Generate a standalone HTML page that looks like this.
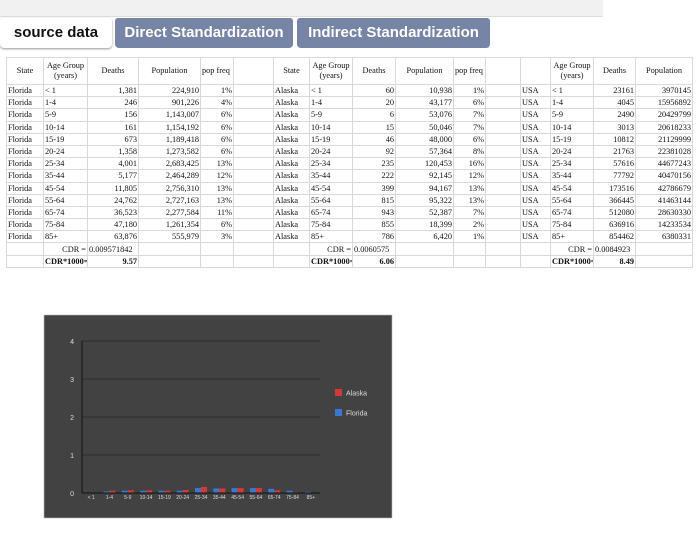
<!DOCTYPE html>
<html><head><meta charset="utf-8"><style>
body{margin:0;width:700px;height:543px;background:#fff;position:relative;overflow:hidden;font-family:"Liberation Sans",sans-serif}
.topbar{position:absolute;left:0;top:0;width:603px;height:16px;background:#f1f1f1;border-bottom:1px solid #ddd}
.tab{position:absolute;top:18px;height:30px;line-height:30px;text-align:center;font-weight:bold;font-size:15px;color:#fff;background:#7684a6;border-radius:3px 3px 4px 4px}
table{position:absolute;left:6px;top:57px;width:686px;border-collapse:collapse;table-layout:fixed;font-family:"Liberation Serif",serif;font-size:8.3px;color:#111}
td{border:1px solid #d8d8de;padding:0 1px;height:11.2px;line-height:11px;white-space:nowrap;overflow:hidden}
tr.h td{height:26px;text-align:center;line-height:10px}
.r{text-align:right}.b{font-weight:bold}
</style></head><body>
<div class="topbar"></div>
<div class="tab" style="left:0;width:112px;background:#fff;color:#111;box-shadow:0 1px 2px #999">source data</div>
<div class="tab" style="left:115px;width:178px">Direct Standardization</div>
<div class="tab" style="left:297px;width:193px">Indirect Standardization</div>

<table>
<colgroup><col style="width:37px"><col style="width:44px"><col style="width:51px"><col style="width:62px"><col style="width:33px"><col style="width:40px"><col style="width:36px"><col style="width:43px"><col style="width:43px"><col style="width:58px"><col style="width:32px"><col style="width:35px"><col style="width:30px"><col style="width:43px"><col style="width:42px"><col style="width:57px"></colgroup>
<tbody id="tb"></tbody></table>

<svg style="position:absolute;left:0;top:0" width="700" height="543">
<rect x="44" y="315" width="348" height="203" fill="#424242" stroke="#bbb" stroke-width="0.6"/>
<g id="chart"></g>
</svg>
<script>
const ages=["< 1","1-4","5-9","10-14","15-19","20-24","25-34","35-44","45-54","55-64","65-74","75-84","85+"];
const flDeaths=["1,381","246","156","161","673","1,358","4,001","5,177","11,805","24,762","36,523","47,180","63,876"];
const flPop=["224,910","901,226","1,143,007","1,154,192","1,189,418","1,273,582","2,683,425","2,464,289","2,756,310","2,727,163","2,277,584","1,261,354","555,979"];
const flFreq=[1,4,6,6,6,6,13,12,13,13,11,6,3];
const akDeaths=["60","20","6","15","46","92","235","222","399","815","943","855","786"];
const akPop=["10,938","43,177","53,076","50,046","48,000","57,364","120,453","92,145","94,167","95,322","52,387","18,399","6,420"];
const akFreq=[1,6,7,7,6,8,16,12,13,13,7,2,1];
const usDeaths=["23161","4045","2490","3013","10812","21763","57616","77792","173516","366445","512080","636916","854462"];
const usPop=["3970145","15956892","20429799","20618233","21129999","22381028","44677243","40470156","42786679","41463144","28630330","14233534","6380331"];
const yTicks=[0,1,2,3,4];

const tb=document.getElementById('tb');
let h='<tr class="h"><td>State</td><td>Age Group<br>(years)</td><td>Deaths</td><td>Population</td><td style="text-align:left">pop freq</td><td></td><td>State</td><td>Age Group<br>(years)</td><td>Deaths</td><td>Population</td><td style="text-align:left">pop freq</td><td></td><td></td><td>Age Group<br>(years)</td><td>Deaths</td><td>Population</td></tr>';
for(let i=0;i<ages.length;i++){
 const a=ages[i].replace('<','&lt;');
 h+=`<tr><td>Florida</td><td>${a}</td><td class="r">${flDeaths[i]}</td><td class="r">${flPop[i]}</td><td class="r">${flFreq[i]}%</td><td></td><td>Alaska</td><td>${a}</td><td class="r">${akDeaths[i]}</td><td class="r">${akPop[i]}</td><td class="r">${akFreq[i]}%</td><td></td><td>USA</td><td>${a}</td><td class="r">${usDeaths[i]}</td><td class="r">${usPop[i]}</td></tr>`;
}
h+='<tr><td></td><td class="r">CDR =</td><td>0.009571842</td><td></td><td></td><td></td><td></td><td class="r">CDR =</td><td>0.0060575</td><td></td><td></td><td></td><td></td><td class="r">CDR =</td><td>0.0084923</td><td></td></tr>';
h+='<tr><td></td><td class="b r">CDR*1000=</td><td class="b r">9.57</td><td></td><td></td><td></td><td></td><td class="b r">CDR*1000=</td><td class="b r">6.06</td><td></td><td></td><td></td><td></td><td class="b r">CDR*1000=</td><td class="b r">8.49</td><td></td></tr>';
tb.innerHTML=h;

const NS='http://www.w3.org/2000/svg';
const g=document.getElementById('chart');
const x0=82,x1=320,y0=493,yTop=341,ymax=4;
const ys=v=>y0-(v/ymax)*(y0-yTop);
const band=(x1-x0)/ages.length;
function mk(t,at){const e=document.createElementNS(NS,t);for(const k in at)e.setAttribute(k,at[k]);g.appendChild(e);return e;}
yTicks.forEach(t=>{
 if(t>0){const l=mk('line',{x1:x0,x2:x1,y1:ys(t),y2:ys(t),stroke:'#2c2c2c','stroke-width':1});
 
 }
 const tx=mk('text',{x:x0-8,y:ys(t)+3,fill:'#ddd','font-size':7,'text-anchor':'end'});tx.textContent=t;
 
 
});
ages.forEach((a,i)=>{
 const cx=x0+band*(i+0.5),bw=6;
 const fv=flFreq[i]/100,av=akFreq[i]/100;
 const bf=mk('rect',{x:cx-bw,y:ys(fv),width:bw,height:y0-ys(fv),fill:'#3a78d0'});
 
 
 const ba=mk('rect',{x:cx,y:ys(av),width:bw,height:y0-ys(av),fill:'#d03a3a'});
 
 
 const tx=mk('text',{x:cx,y:y0+6,fill:'#ddd','font-size':5,'text-anchor':'middle'});tx.textContent=a;
 
 
});
const ax=mk('line',{x1:x0,x2:x0,y1:yTop,y2:y0,stroke:'#111','stroke-width':1});


const bx=mk('line',{x1:x0,x2:x1,y1:y0,y2:y0,stroke:'#111','stroke-width':1});


[['Alaska','#d03a3a',393],['Florida','#3a78d0',413]].forEach(([n,c,y])=>{
 const r=mk('rect',{x:335,y:y-4,width:7,height:7,fill:c});
 
 
 const t=mk('text',{x:346,y:y+2.5,fill:'#ddd','font-size':7});t.textContent=n;
 
 
});
</script>
</body></html>
